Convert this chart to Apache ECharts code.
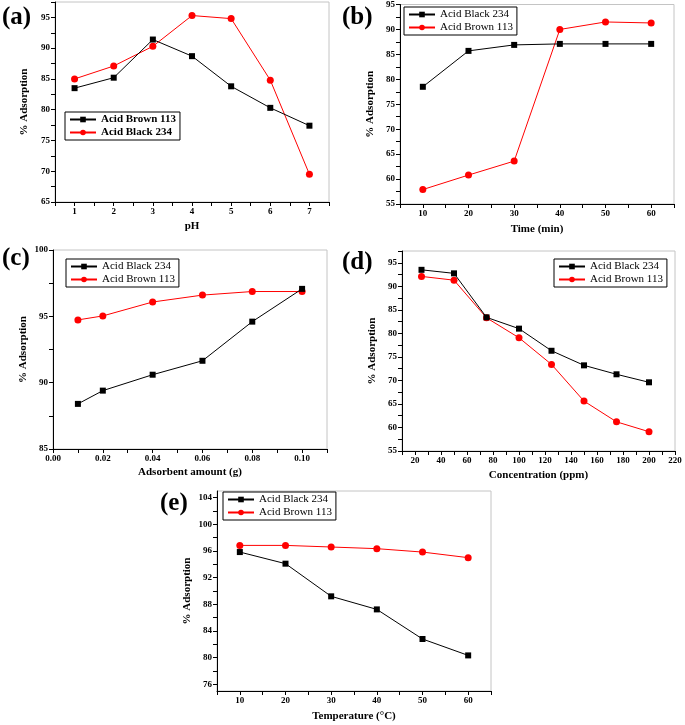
<!DOCTYPE html>
<html>
<head>
<meta charset="utf-8">
<script src="https://cdn.jsdelivr.net/npm/echarts@6/dist/echarts.min.js"></script>
<style>
  html, body { margin: 0; padding: 0; background: #fff; }
  #wrap { position: relative; width: 685px; height: 725px; }
  .pane { position: absolute; left: 0; top: 0; width: 685px; height: 725px; }
</style>
</head>
<body>
<div id="wrap">
  <div class="pane" id="ca"></div>
  <div class="pane" id="cb"></div>
  <div class="pane" id="cc"></div>
  <div class="pane" id="cd"></div>
  <div class="pane" id="ce"></div>
</div>
<script>
// ---------- DATA ----------
// (a) pH
const phValues = [1, 2, 3, 4, 5, 6, 7];
const phBrown113 = [83.5, 85.2, 91.4, 88.7, 83.8, 80.3, 77.4];
const phBlack234 = [85.0, 87.1, 90.3, 95.3, 94.8, 84.8, 69.5];
// (b) contact time
const timeValues = [10, 20, 30, 40, 50, 60];
const timeBlack234 = [78.5, 85.7, 86.9, 87.1, 87.1, 87.1];
const timeBrown113 = [57.9, 60.8, 63.6, 90.0, 91.5, 91.3];
// (c) adsorbent amount
const doseValues = [0.01, 0.02, 0.04, 0.06, 0.08, 0.10];
const doseBlack234 = [88.4, 89.4, 90.6, 91.65, 94.6, 97.07];
const doseBrown113 = [94.73, 95.03, 96.08, 96.6, 96.87, 96.87];
// (d) concentration
const concValues = [25, 50, 75, 100, 125, 150, 175, 200];
const concBlack234 = [93.5, 92.75, 83.4, 81.0, 76.3, 73.2, 71.3, 69.6];
const concBrown113 = [92.1, 91.3, 83.3, 79.06, 73.4, 65.6, 61.2, 59.1];
// (e) temperature
const tempValues = [10, 20, 30, 40, 50, 60];
const tempBlack234 = [95.84, 94.1, 89.2, 87.24, 82.8, 80.34];
const tempBrown113 = [96.84, 96.84, 96.6, 96.35, 95.84, 95.0];
// tick label values for panel (e) y axis
const tempYLabels = [76, 80, 84, 88, 92, 96, 100, 104];
const tempYTicks = [76, 78, 80, 82, 84, 86, 88, 90, 92, 94, 96, 98, 100, 102, 104];

// ---------- STYLE / BUILD ----------
const FF = '"Liberation Serif","Times New Roman",serif';
function pairs(xs, ys) { return xs.map((x, i) => [x, ys[i]]); }

function axisCommon() {
  return {
    axisLine: { show: true, onZero: false, lineStyle: { color: '#000', width: 1 } },
    axisTick: { show: true, inside: false, length: 4, lineStyle: { color: '#000', width: 1 } },
    splitLine: { show: false },
    nameTextStyle: { fontFamily: FF, fontWeight: 'bold', fontSize: 11, color: '#000' }
  };
}
function labelStyle(fmt) {
  return { fontFamily: FF, fontWeight: 'bold', fontSize: 9, color: '#000', margin: 5, formatter: fmt, showMinLabel: true, showMaxLabel: true, hideOverlap: false };
}

function blackSeries(name, data) {
  return { type: 'line', name: name, data: data, symbol: 'rect', symbolSize: 6,
    itemStyle: { color: '#000' }, lineStyle: { color: '#000', width: 1 }, z: 3 };
}
function redSeries(name, data) {
  return { type: 'line', name: name, data: data, symbol: 'circle', symbolSize: 7,
    itemStyle: { color: '#ff0000' }, lineStyle: { color: '#ff0000', width: 1 }, z: 2 };
}

function build(id, o) {
  const chart = echarts.init(document.getElementById(id), null, { renderer: 'canvas' });
  const xa = Object.assign(axisCommon(), {
    type: 'value', min: o.x.min, max: o.x.max, interval: o.x.interval,
    name: o.x.name, nameLocation: 'middle', nameGap: o.x.gap,
    axisLabel: labelStyle(o.x.fmt)
  });
  const ya = Object.assign(axisCommon(), {
    type: 'value', min: o.y.min, max: o.y.max,
    name: '% Adsorption', nameLocation: 'middle', nameGap: o.y.gap,
    axisLabel: labelStyle(o.y.fmt)
  });
  if (o.y.interval) ya.interval = o.y.interval;
  if (o.y.labelValues) {
    ya.axisLabel.customValues = o.y.labelValues;
    ya.axisTick.customValues = o.y.tickValues;
  }
  chart.setOption({
    animation: false,
    title: { text: o.label, left: o.labelPos[0], top: o.labelPos[1], padding: 0,
      textStyle: { fontFamily: FF, fontWeight: 'bold', fontSize: 25, color: '#000' } },
    grid: { left: o.grid[0], top: o.grid[1], width: o.grid[2], height: o.grid[3],
      containLabel: false, show: true, borderColor: '#c4c4c4', borderWidth: 1, backgroundColor: 'transparent' },
    legend: {
      orient: 'vertical', left: o.legend[0], top: o.legend[1], width: o.legend[2],
      padding: [1, 4, 1, 4], itemGap: 0, itemWidth: 26, itemHeight: 7,
      borderColor: '#000', borderWidth: 1, backgroundColor: '#fff',
      textStyle: { fontFamily: FF, fontSize: 11, color: '#000', fontWeight: o.legendBold ? 'bold' : 'normal', lineHeight: 13 },
      data: o.series.map(s => s.name)
    },
    xAxis: xa,
    yAxis: ya,
    series: o.series
  });
}

const evenInt = (lo, hi, step) => v => {
  const r = Math.round(v * 1000) / 1000;
  if (r < lo - 1e-9 || r > hi + 1e-9) return '';
  const k = Math.round(r / step);
  return Math.abs(k * step - r) < 1e-6 ? String(r) : '';
};

// (a)
build('ca', {
  label: '(a)', labelPos: [2, 5],
  grid: [55, 2, 274, 200],
  legend: [65, 112, 111],
  legendBold: true,
  x: { min: 0.5, max: 7.5, interval: 0.5, name: 'pH', gap: 19, fmt: evenInt(1, 7, 1) },
  y: { min: 65, max: 97.5, interval: 2.5, gap: 25, fmt: evenInt(65, 95, 5) },
  series: [blackSeries('Acid Brown 113', pairs(phValues, phBrown113)),
           redSeries('Acid Black 234', pairs(phValues, phBlack234))]
});
// (b)
build('cb', {
  label: '(b)', labelPos: [342, 5],
  grid: [400, 4, 274, 200],
  legend: [404, 7, 112],
  x: { min: 5, max: 65, interval: 5, name: 'Time (min)', gap: 20, fmt: evenInt(10, 60, 10) },
  y: { min: 55, max: 95, interval: 2.5, gap: 24, fmt: evenInt(55, 95, 5) },
  series: [blackSeries('Acid Black 234', pairs(timeValues, timeBlack234)),
           redSeries('Acid Brown 113', pairs(timeValues, timeBrown113))]
});
// (c)
build('cc', {
  label: '(c)', labelPos: [2, 246],
  grid: [53, 250, 274, 199],
  legend: [66, 259, 111],
  x: { min: 0, max: 0.11, interval: 0.01, name: 'Adsorbent amount (g)', gap: 18,
       fmt: v => { const k = Math.round(v * 100); return (k % 2 === 0 && k <= 10) ? (k / 100).toFixed(2) : ''; } },
  y: { min: 85, max: 100, interval: 2.5, gap: 24, fmt: evenInt(85, 100, 5) },
  series: [blackSeries('Acid Black 234', pairs(doseValues, doseBlack234)),
           redSeries('Acid Brown 113', pairs(doseValues, doseBrown113))]
});
// (d)
build('cd', {
  label: '(d)', labelPos: [342, 250],
  grid: [402, 251, 273, 200],
  legend: [554, 259, 111],
  x: { min: 10, max: 220, interval: 10, name: 'Concentration (ppm)', gap: 19, fmt: evenInt(20, 220, 20) },
  y: { min: 55, max: 97.5, interval: 2.5, gap: 24, fmt: evenInt(55, 95, 5) },
  series: [blackSeries('Acid Black 234', pairs(concValues, concBlack234)),
           redSeries('Acid Brown 113', pairs(concValues, concBrown113))]
});
// (e)
build('ce', {
  label: '(e)', labelPos: [160, 491],
  grid: [217, 491, 274, 200],
  legend: [223, 492, 111],
  x: { min: 5, max: 65, interval: 5, name: 'Temperature (\u00B0C)', gap: 20, fmt: evenInt(10, 60, 10) },
  y: { min: 75, max: 105, gap: 24, fmt: v => String(v), labelValues: tempYLabels, tickValues: tempYTicks },
  series: [blackSeries('Acid Black 234', pairs(tempValues, tempBlack234)),
           redSeries('Acid Brown 113', pairs(tempValues, tempBrown113))]
});
</script>
</body>
</html>
